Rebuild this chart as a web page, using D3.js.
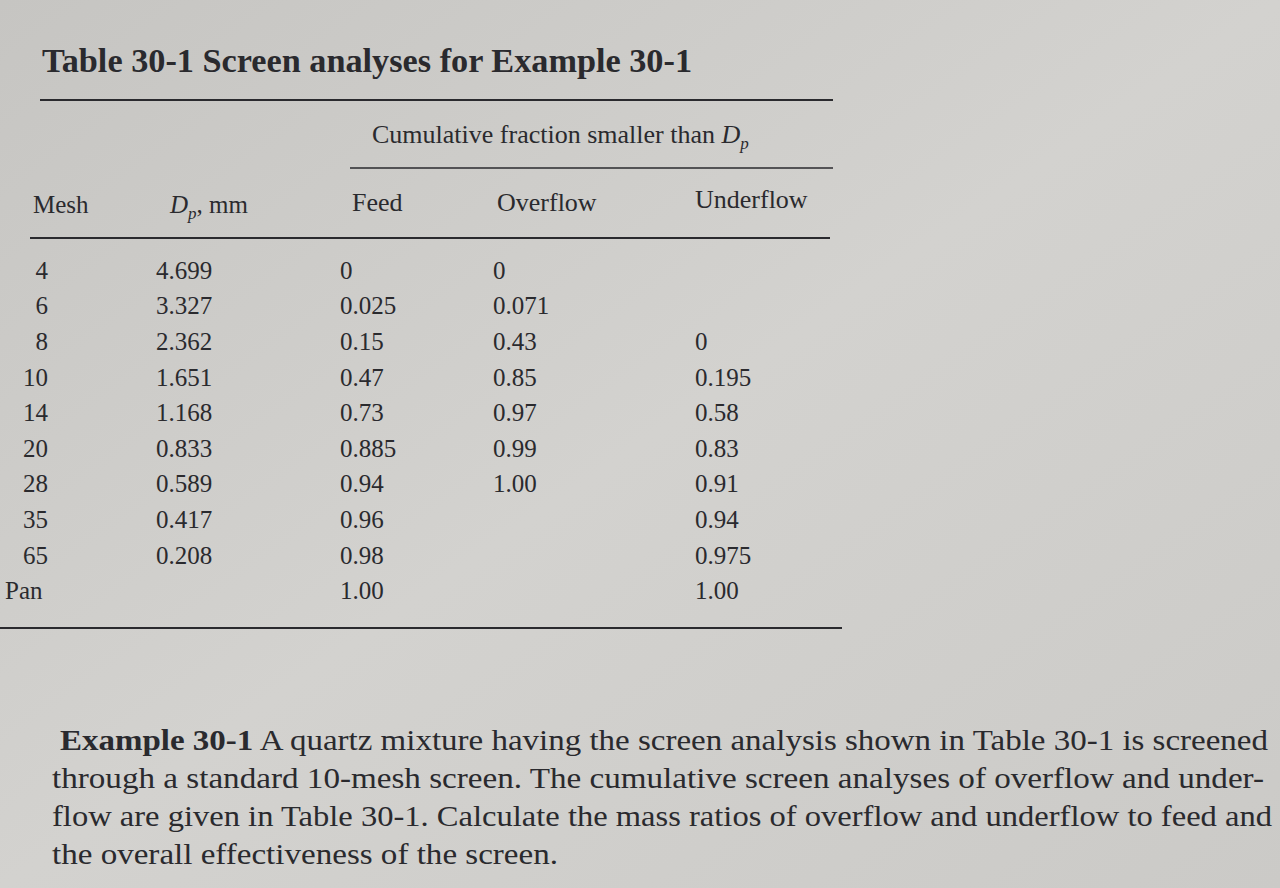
<!DOCTYPE html>
<html><head><meta charset="utf-8">
<script src="https://cdn.jsdelivr.net/npm/d3@7"></script>
<style>body{margin:0;background:#cfcecb}svg{display:block}</style>
</head><body>
<svg id="c" width="1280" height="888"></svg>
<script>
const mesh = ["4","6","8","10","14","20","28","35","65","Pan"];
const dp = ["4.699","3.327","2.362","1.651","1.168","0.833","0.589","0.417","0.208",""];
const feed = ["0","0.025","0.15","0.47","0.73","0.885","0.94","0.96","0.98","1.00"];
const overflow = ["0","0.071","0.43","0.85","0.97","0.99","1.00","","",""];
const underflow = ["","","0","0.195","0.58","0.83","0.91","0.94","0.975","1.00"];
const paragraph = [
 ["Example 30-1", " A quartz mixture having the screen analysis shown in Table 30-1 is screened"],
 ["", "through a standard 10-mesh screen. The cumulative screen analyses of overflow and under-"],
 ["", "flow are given in Table 30-1. Calculate the mass ratios of overflow and underflow to feed and"],
 ["", "the overall effectiveness of the screen."]
];
const lineLen = [1208, 1212, 1220, 506];
const svg = d3.select("#c");
const defs = svg.append("defs");
const g = defs.append("linearGradient").attr("id","bg").attr("x1","0").attr("x2","1").attr("y1","0").attr("y2","1");
g.append("stop").attr("offset","0").attr("stop-color","#c6c5c2");
g.append("stop").attr("offset","0.5").attr("stop-color","#d3d2cf");
g.append("stop").attr("offset","1").attr("stop-color","#cbcac7");
svg.append("rect").attr("width",1280).attr("height",888).attr("fill","url(#bg)");
const ink = "#2a2a2e", font = "'Liberation Serif', 'DejaVu Serif', serif";
const T = (x,y,s,size,opts={}) => svg.append("text").attr("x",x).attr("y",y).attr("font-family",font)
  .attr("font-size",size).attr("fill",ink).attr("font-weight",opts.bold?"bold":"normal")
  .attr("text-anchor",opts.anchor||"start").text(s);
T(42,72,"Table 30-1  Screen analyses for Example 30-1",33,{bold:true}).attr("textLength",650).attr("lengthAdjust","spacingAndGlyphs");
const line=(x1,x2,y,w)=>svg.append("line").attr("x1",x1).attr("x2",x2).attr("y1",y).attr("y2",y).attr("stroke",ink).attr("stroke-width",w);
line(40,833,100,2); line(350,833,168,1.5); line(30,830,238,2); line(0,842,628,2);
const h = T(372,143,"Cumulative fraction smaller than ",26);
h.append("tspan").attr("font-style","italic").text("D");
h.append("tspan").attr("font-style","italic").attr("font-size",17).attr("dy",6).text("p");
T(33,213,"Mesh",25);
const d = T(170,213,"",25); d.append("tspan").attr("font-style","italic").text("D");
d.append("tspan").attr("font-style","italic").attr("font-size",17).attr("dy",6).text("p");
d.append("tspan").attr("dy",-6).text(", mm");
T(352,211,"Feed",26); T(497,211,"Overflow",26); T(695,208,"Underflow",26);
const y = d3.scaleBand().domain(d3.range(mesh.length)).range([252,608]);
const rows = svg.append("g").selectAll("g").data(mesh).join("g")
  .attr("transform",(m,i)=>`translate(0,${y(i)+y.bandwidth()/2+9})`);
rows.append("text").attr("x",(m)=>m==="Pan"?5:48).attr("text-anchor",m=>m==="Pan"?"start":"end").text(m=>m);
rows.append("text").attr("x",156).text((m,i)=>dp[i]);
rows.append("text").attr("x",340).text((m,i)=>feed[i]);
rows.append("text").attr("x",493).text((m,i)=>overflow[i]);
rows.append("text").attr("x",695).text((m,i)=>underflow[i]);
rows.selectAll("text").attr("font-family",font).attr("font-size",25).attr("fill",ink);
paragraph.forEach((p,i)=>{
  const t = T(i===0?60:52, 750+i*38, "", 30);
  if(p[0]) t.append("tspan").attr("font-weight","bold").text(p[0]);
  t.append("tspan").text(p[1]);
  t.attr("textLength", lineLen[i]).attr("lengthAdjust","spacingAndGlyphs");
});
</script>
</body></html>
